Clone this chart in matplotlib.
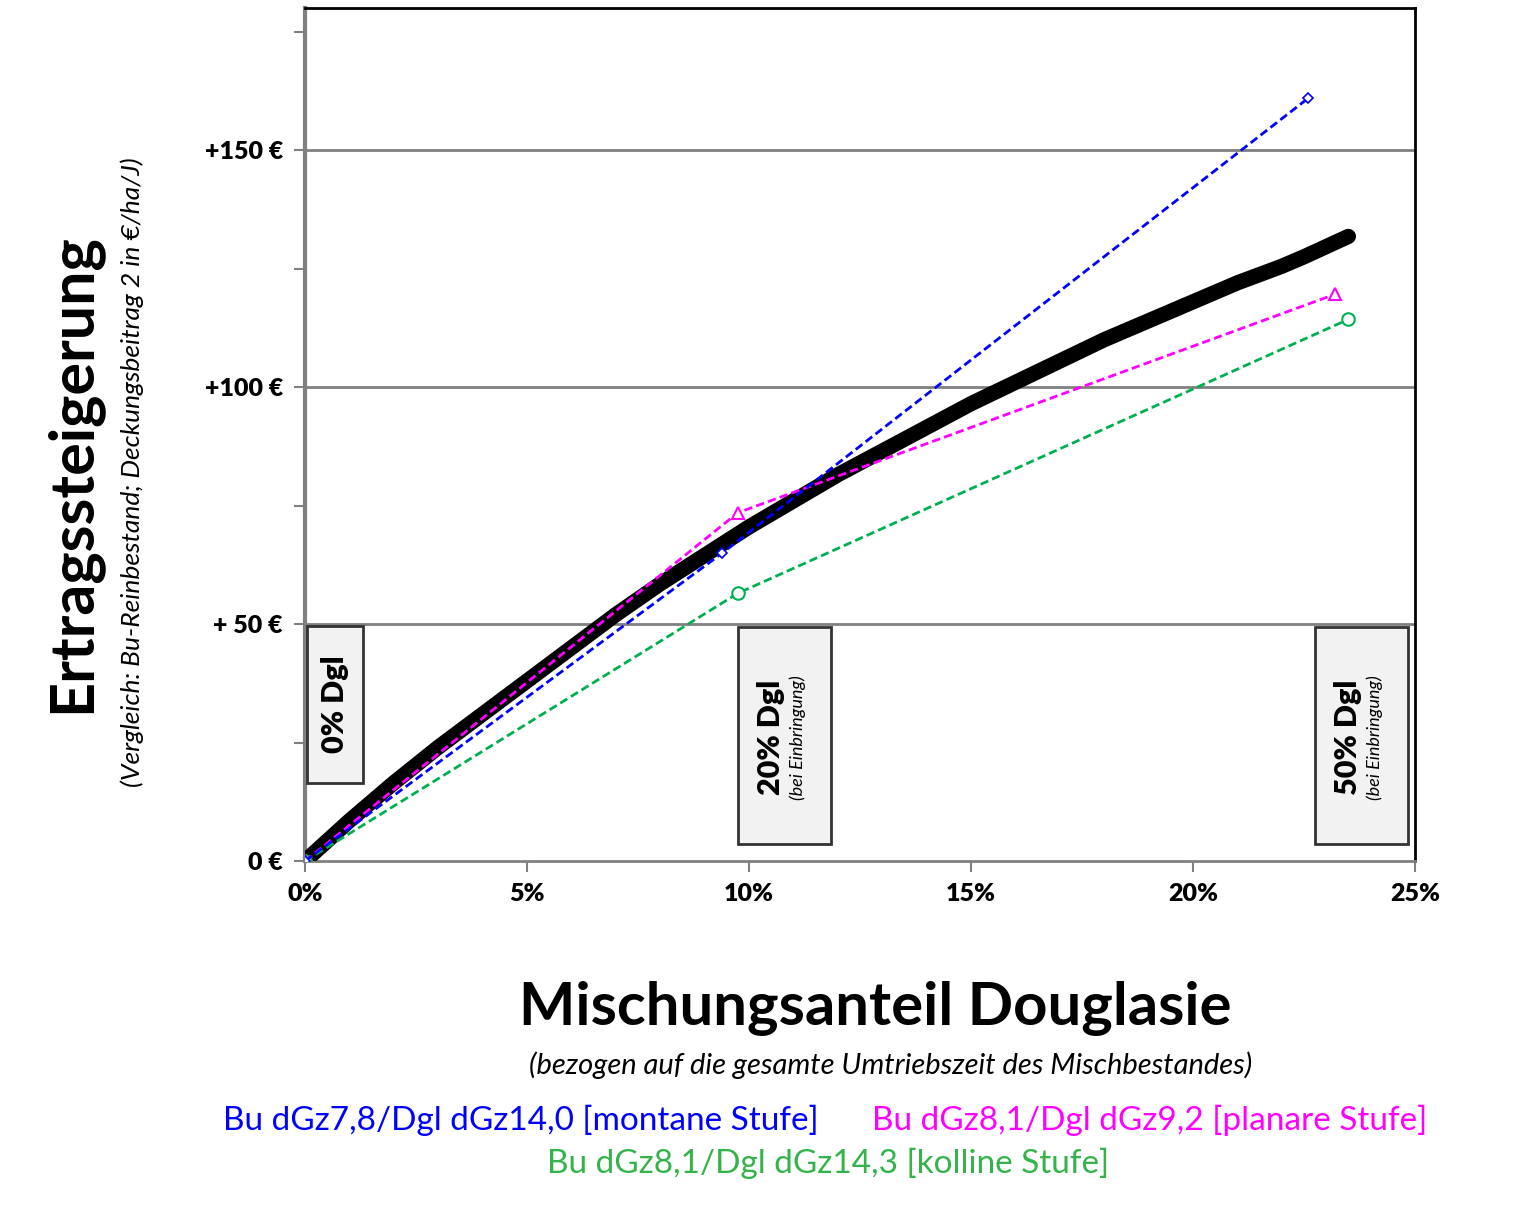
import matplotlib
matplotlib.use('Agg')
import matplotlib.pyplot as plt
from matplotlib.patches import Rectangle

plt.rcParams['font.family'] = ['Lato', 'DejaVu Sans']

# Data (x in %, y in EUR/ha/yr)
blue_x = [0, 9.4, 22.6]
blue_y = [0, 65, 161]
mag_x = [0, 9.75, 23.2]
mag_y = [0, 73.5, 119.6]
green_x = [0, 9.75, 23.5]
green_y = [0, 56.5, 114.3]
black_x = list(range(24)) + [23.5]
black_y = [0, 8.5, 16.5, 24, 31, 38, 45, 52, 58.5, 64.5, 70.5, 76, 81.5, 86.5,
           91.5, 96.5, 101, 105.5, 110, 114, 118, 122, 125.5, 129, 131.8]
black_x = black_x[:23] + [22.5, 23.5]
black_y = black_y[:23] + [127.5, 131.8]

yticks = [0, 25, 50, 75, 100, 125, 150, 175]
ylabels = ['0 €', '', '+ 50 €', '', '+100 €', '', '+150 €', '']
xticks = [0, 5, 10, 15, 20, 25]
xlabels = ['0%', '5%', '10%', '15%', '20%', '25%']

fig = plt.figure(figsize=(15.14, 12.12), dpi=100)
ax = fig.add_axes([0.2015, 0.2896, 0.7331, 0.7038])

for v in [50, 100, 150]:
    ax.axhline(v, color='#808080', lw=2, zorder=1)

ax.plot(black_x, black_y, color='black', lw=11, solid_capstyle='round', zorder=3)
ax.plot(green_x, green_y, color='#00b050', lw=2, ls=(0, (3, 1.5)), marker='o',
        ms=9, mfc='white', mew=1.5, zorder=4)
ax.plot(mag_x, mag_y, color='#ff00ff', lw=2, ls=(0, (3, 1.5)), marker='^',
        ms=9, mfc='white', mew=1.5, zorder=5)
ax.plot(blue_x, blue_y, color='#0000ff', lw=2, ls=(0, (3, 1.5)), marker='D',
        ms=5, mfc='white', mew=1.2, zorder=6)

ax.set_xlim(0, 25)
ax.set_ylim(0, 180)
ax.set_yticks(yticks)
ax.set_yticklabels(ylabels, fontsize=18, fontweight='heavy')
ax.set_xticks(xticks)
ax.set_xticklabels(xlabels, fontsize=18, fontweight='heavy')
ax.tick_params(axis='both', length=8, width=1.5, color='#808080', pad=8)
for s in ['top', 'right']:
    ax.spines[s].set_linewidth(2)
ax.spines['left'].set_color('#808080')
ax.spines['left'].set_linewidth(3)
ax.spines['bottom'].set_color('#808080')
ax.spines['bottom'].set_linewidth(2)

# label boxes
boxes = [(0.05, 1.3, 16.5, 49.5), (9.75, 11.85, 3.5, 49.3), (22.75, 24.85, 3.5, 49.3)]
for x0, x1, y0, y1 in boxes:
    ax.add_patch(Rectangle((x0, y0), x1 - x0, y1 - y0, fc='#f2f2f2', ec='#333333',
                           lw=2, zorder=7))
ax.text(0.68, 33, '0% Dgl', rotation=90, ha='center', va='center', fontsize=22,
        fontweight='heavy', zorder=8)
for xc, lab in [(10.5, '20% Dgl'), (23.5, '50% Dgl')]:
    ax.text(xc, 26, lab, rotation=90, ha='center', va='center',
            fontsize=22, fontweight='heavy', zorder=8)
    ax.text(xc + 0.6, 26, '(bei Einbringung)', rotation=90, ha='center',
            va='center', fontsize=13, style='italic', zorder=8)

fig.text(0.048, 0.61, 'Ertragssteigerung', rotation=90, ha='center', va='center',
         fontsize=44, fontweight='bold')
fig.text(0.087, 0.61, '(Vergleich: Bu-Reinbestand; Deckungsbeitrag 2 in €/ha/J)',
         rotation=90, ha='center', va='center', fontsize=19, style='italic')
fig.text(0.578, 0.168, 'Mischungsanteil Douglasie', ha='center', va='center',
         fontsize=43, fontweight='bold')
fig.text(0.588, 0.121, '(bezogen auf die gesamte Umtriebszeit des Mischbestandes)',
         ha='center', va='center', fontsize=21, style='italic')
fig.text(0.344, 0.076, 'Bu dGz7,8/Dgl dGz14,0 [montane Stufe]', ha='center',
         va='center', fontsize=24, color='#0000ff')
fig.text(0.759, 0.076, 'Bu dGz8,1/Dgl dGz9,2 [planare Stufe]', ha='center',
         va='center', fontsize=24, color='#ff00ff')
fig.text(0.547, 0.04, 'Bu dGz8,1/Dgl dGz14,3 [kolline Stufe]', ha='center',
         va='center', fontsize=24, color='#33b34a')

fig.savefig('out.png', dpi=100)
